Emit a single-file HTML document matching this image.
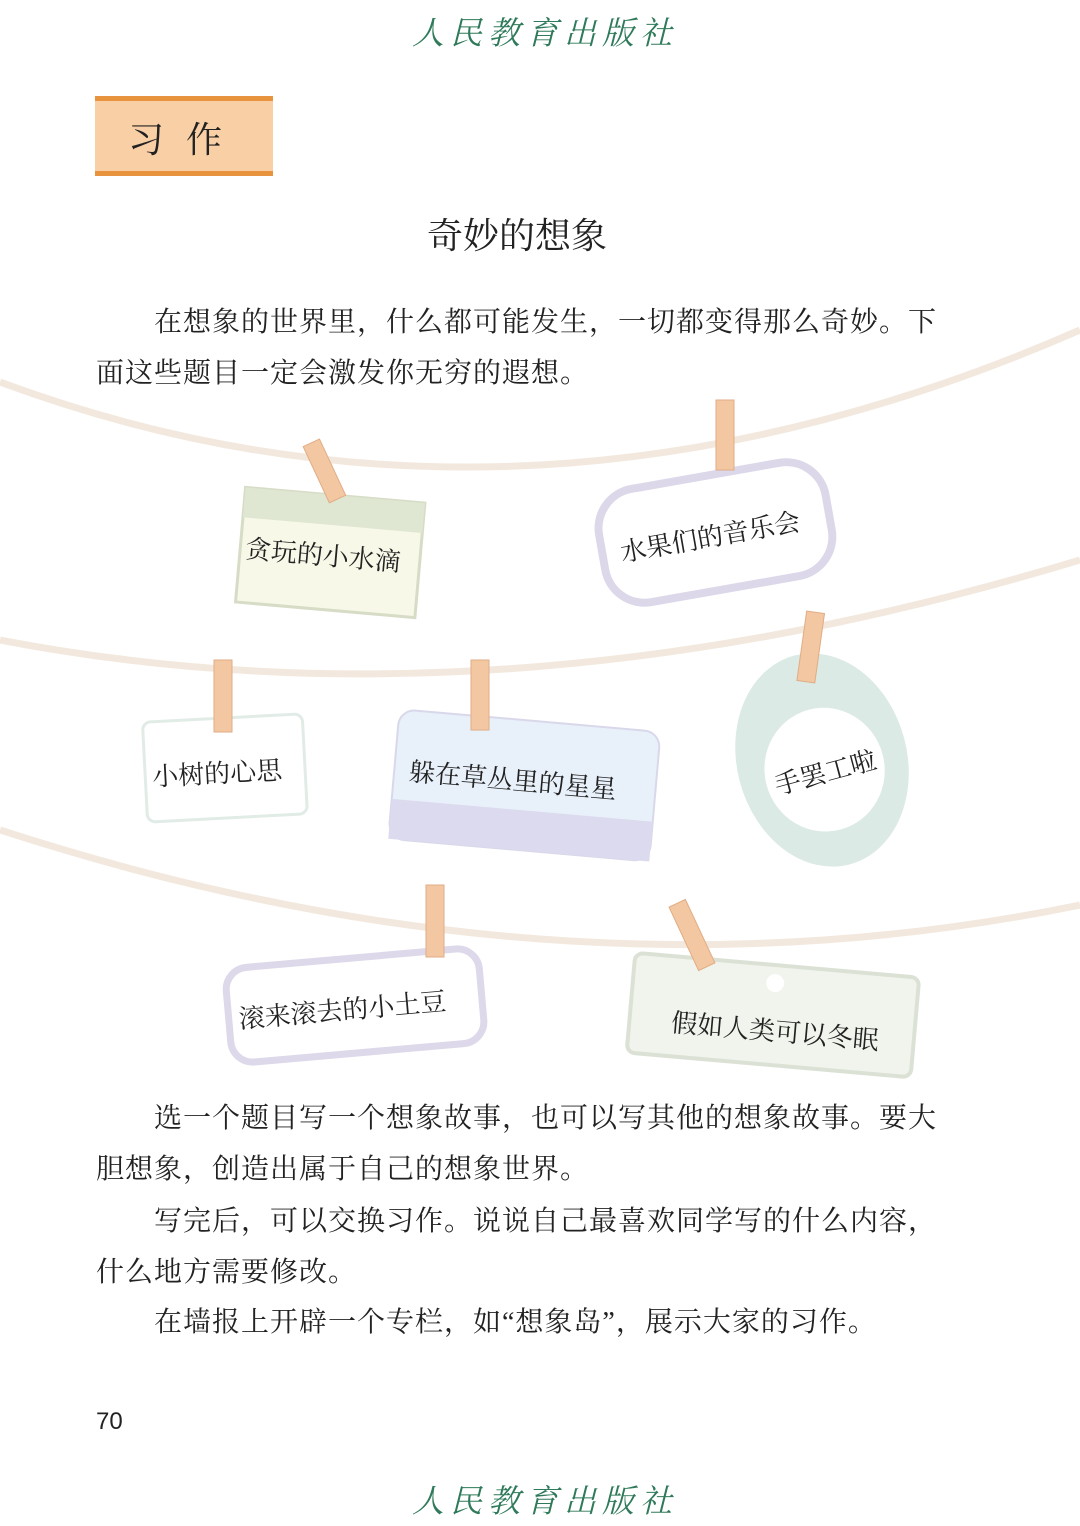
<!DOCTYPE html>
<html><head><meta charset="utf-8"><style>
body{margin:0;background:#fff;}
.pg{position:relative;width:1080px;height:1526px;overflow:hidden;font-family:"Liberation Serif","Noto Serif CJK SC",serif;color:#222;}
.logo{position:absolute;left:395px;width:300px;text-align:center;font-family:"Noto Serif CJK SC",serif;font-style:italic;color:#2f7a5a;font-size:32px;letter-spacing:6px;}
.p{position:absolute;left:96px;width:852px;font-size:28px;letter-spacing:1px;line-height:51px;}
</style></head><body><div class="pg">
<div class="logo" style="top:8px">人民教育出版社</div>
<div style="position:absolute;left:95px;top:96px;width:178px;height:80px;background:#f9cfa5;border-top:5px solid #e8933e;border-bottom:5px solid #e8933e;box-sizing:border-box;"></div>
<div style="position:absolute;left:128px;top:112px;font-size:36px;letter-spacing:22px;">习作</div>
<div style="position:absolute;left:0;width:1034px;text-align:center;top:208px;font-size:36px;">奇妙的想象</div>
<div class="p" style="top:297px;text-indent:58px;">在想象的世界里，什么都可能发生，一切都变得那么奇妙。下面这些题目一定会激发你无穷的遐想。</div>
<svg style="position:absolute;left:0;top:0" width="1080" height="1526">
<g fill="none" stroke="#f3e8de" stroke-width="7">
<path d="M0,382 Q520,575 1080,330"/>
<path d="M0,640 Q500,736 1080,560"/>
<path d="M0,830 Q560,1012 1080,905"/>
</g>
<g font-family="Noto Serif CJK SC,serif" font-size="26" fill="#222">
<g transform="rotate(5 330 555)"><rect x="240" y="495" width="180" height="115" fill="#f8f8e8" stroke="#d6dcc6" stroke-width="3"/><rect x="240" y="495" width="180" height="30" fill="#dfe6d2"/><text x="245" y="565">贪玩的小水滴</text></g>
<g transform="rotate(-10 715 530)"><rect x="600" y="475" width="230" height="115" rx="40" fill="#fff" stroke="#dcd8ea" stroke-width="8"/><text x="618" y="545">水果们的音乐会</text></g>
<g transform="rotate(-3 225 770)"><rect x="145" y="718" width="160" height="100" rx="8" fill="#fff" stroke="#e1ece6" stroke-width="3"/><text x="152" y="782">小树的心思</text></g>
<g transform="rotate(5 520 790)"><rect x="393" y="720" width="262" height="130" rx="16" fill="#e8f0fa" stroke="#d9d8ea" stroke-width="2"/><rect x="393" y="810" width="262" height="40" fill="#dcdaee"/><text x="408" y="790">躲在草丛里的星星</text></g>
<g transform="rotate(-15 822 760)"><ellipse cx="822" cy="760" rx="85" ry="108" fill="#dbeae4"/><ellipse cx="822" cy="770" rx="60" ry="62" fill="#fff"/><text x="770" y="782">手罢工啦</text></g>
<g transform="rotate(-5 355 1005)"><rect x="228" y="958" width="254" height="95" rx="22" fill="#fff" stroke="#ddd8ea" stroke-width="7"/><text x="238" y="1018">滚来滚去的小土豆</text></g>
<g transform="rotate(5 772 1020)"><rect x="630" y="965" width="285" height="100" rx="8" fill="#f1f4ec" stroke="#dbe2d5" stroke-width="4"/><circle cx="772" cy="983" r="9" fill="#fff"/><text x="672" y="1040">假如人类可以冬眠</text></g>
</g>
<g fill="#f2c7a1" stroke="#e0ad85" stroke-width="1">
<rect x="315" y="440" width="18" height="62" transform="rotate(-25 324 470)"/>
<rect x="716" y="400" width="18" height="70"/>
<rect x="214" y="660" width="18" height="72"/>
<rect x="471" y="660" width="18" height="70"/>
<rect x="802" y="612" width="18" height="70" transform="rotate(8 811 645)"/>
<rect x="426" y="885" width="18" height="72"/>
<rect x="683" y="900" width="18" height="70" transform="rotate(-25 692 935)"/>
</g>
</svg>
<div class="p" style="top:1093px;text-indent:58px;">选一个题目写一个想象故事，也可以写其他的想象故事。要大胆想象，创造出属于自己的想象世界。</div>
<div class="p" style="top:1196px;text-indent:58px;">写完后，可以交换习作。说说自己最喜欢同学写的什么内容，什么地方需要修改。</div>
<div class="p" style="top:1297px;text-indent:58px;">在墙报上开辟一个专栏，如“想象岛”，展示大家的习作。</div>
<div style="position:absolute;left:96px;top:1408px;font-family:'Liberation Sans',sans-serif;font-size:24px;">70</div>
<div class="logo" style="top:1476px">人民教育出版社</div>
</div></body></html>
